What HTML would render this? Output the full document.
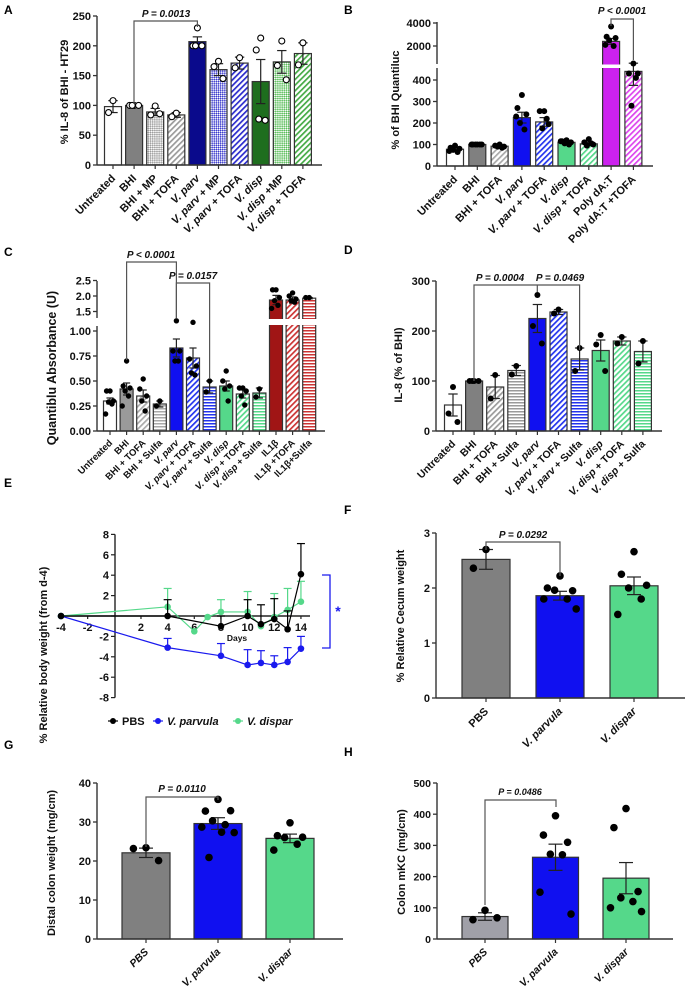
<!DOCTYPE html>
<html><head><meta charset="utf-8">
<style>
html,body{margin:0;padding:0;background:#fff;}
svg{display:block;font-family:"Liberation Sans",sans-serif;font-weight:bold;}
</style></head>
<body>
<svg id="fig" width="685" height="993" viewBox="0 0 685 993" xmlns="http://www.w3.org/2000/svg">
<defs id="defs"></defs>
<text x="4" y="14" font-size="12">A</text>
<text x="344" y="14" font-size="12">B</text>
<text x="4" y="256" font-size="12">C</text>
<text x="344" y="254" font-size="12">D</text>
<text x="4" y="487" font-size="12">E</text>
<text x="344" y="514" font-size="12">F</text>
<text x="4" y="749" font-size="12">G</text>
<text x="344" y="756" font-size="12">H</text>
</svg>
<script>
// ===== Panel A data =====
const aCats=['Untreated','BHI','BHI + MP','BHI + TOFA','V. parv','V. parv + MP','V. parv + TOFA','V. disp','V. disp +MP','V. disp + TOFA'];
const aVals=[98,100,89,84,207,160,171,140,173,187];
const aErrs=[10,0,6,4,8,10,10,37,19,18];
const aPts=[[108,88],[100,100,100,100],[99,84,86],[87,81],[230,200,200,200],[174,165,145],[180,163],[213,193,75,77],[208,167,143],[205,168]];
const aTicks=[0,50,100,150,200,250];
// ===== Panel B data =====
const bCats=['Untreated','BHI','BHI + TOFA','V. parv','V. parv + TOFA','V. disp','V. disp + TOFA','Poly dA:T','Poly dA:T +TOFA'];
const bVals=[78,100,92,225,205,110,103,2400,440];
const bErrs=[6,1,4,25,20,5,6,250,65];
const bPts=[[95,85,80,75,65,70],[100,100,100,100,100,100],[100,95,90,90,85],[330,270,240,200,170,230],[255,255,195,175,220],[120,115,110,105,100,115],[125,110,100,95,105],[3700,2800,2700,2500,2000,2100],[480,430,430,280,410]];
const bTicks=[0,100,200,300,400,2000,4000];
// ===== Panel C data =====
const cCats=['Untreated','BHI','BHI + TOFA','BHI + Sulfa','V. parv','V. parv + TOFA','V. parv + Sulfa','V. disp','V. disp + TOFA','V. disp + Sulfa','IL1β','IL1β +TOFA','IL1β+Sulfa'];
const cVals=[0.30,0.42,0.35,0.27,0.83,0.73,0.44,0.45,0.37,0.38,1.87,1.87,1.93];
const cErrs=[0.03,0.06,0.06,0.03,0.09,0.10,0.06,0.05,0.04,0.05,0.15,0.10,0.02];
const cPts=[[0.40,0.40,0.30,0.29,0.27,0.17],[0.70,0.45,0.43,0.40,0.35,0.25],[0.52,0.42,0.35,0.30,0.20],[0.30,0.25],[1.20,0.80,0.80,0.70,0.70],[1.15,0.72,0.65,0.58,0.56],[0.50,0.39],[0.60,0.50,0.45,0.42,0.30],[0.43,0.43,0.40,0.35,0.26],[0.42,0.34],[2.2,2.2,1.95,1.85,1.7,1.6],[2.1,2.0,1.9,1.85,1.8],[1.95,1.95]];
const cTicks=[0,0.25,0.5,0.75,1.0,1.5,2.0,2.5];
const cTickLabels=['0.00','0.25','0.50','0.75','1.00','1.5','2.0','2.5'];
// ===== Panel D data =====
const dCats=['Untreated','BHI','BHI + TOFA','BHI + Sulfa','V. parv','V. parv + TOFA','V. parv + Sulfa','V. disp','V. disp + TOFA','V. disp + Sulfa'];
const dVals=[52,100,88,121,225,238,144,161,180,159];
const dErrs=[22,0,23,10,28,5,22,21,8,21];
const dPts=[[88,35,18],[100,100,100,100],[112,65],[130,113],[272,210,175],[243,235],[166,120],[192,173,120],[188,175],[180,135]];
const dTicks=[0,100,200,300];
// ===== Panel E data =====
const eTicksX=[-4,-2,2,4,6,8,10,12,14];
const eTicksY=[8,6,4,2,-2,-4,-6,-8];
const pbsDays=[-4,4,8,10,11,12,13,14];
const pbsVals=[0,0,-1,0,-0.8,-0.3,-1.3,4.1];
const pbsErrs=[0,1.6,1.0,1.6,1.9,2.0,1.8,3.0];
const parDays=[-4,4,8,10,11,12,13,14];
const parVals=[0,-3.1,-3.9,-4.8,-4.6,-4.8,-4.5,-3.2];
const parErrs=[0,0.9,1.2,1.5,1.2,0.9,1.4,1.2];
const disDays=[-4,4,6,7,8,10,11,12,13,14];
const disVals=[0,0.9,-1.5,-0.1,0.4,0.4,-1.0,-0.1,0.6,1.4];
const disErrs=[0,1.8,0,0,1.2,2.0,0,2.3,2.1,2.0];
// ===== Panels F,G,H data =====
const fghCats=['PBS','V. parvula','V. dispar'];
const fVals=[2.52,1.86,2.04];
const fErrs=[0.18,0.08,0.16];
const fPts=[[2.70,2.36],[2.22,2.00,1.95,1.96,1.80,1.80,1.62],[2.66,2.25,2.05,2.00,1.80,1.52]];
const fTicks=[0,1,2,3];
const gVals=[22.1,29.6,25.8];
const gErrs=[1.2,1.5,1.1];
const gPts=[[23.4,23.2,20.1],[35.8,32.8,32.9,30.3,29.3,28.7,27.3,27.4,20.9],[29.8,26.5,26.1,26.0,24.3,22.8]];
const gTicks=[0,10,20,30,40];
const hVals=[72,262,195];
const hErrs=[12,42,50];
const hPts=[[92,62,68],[395,333,310,272,270,150,80],[418,357,152,132,120,100,88]];
const hTicks=[0,100,200,300,400,500];

const NS='http://www.w3.org/2000/svg';
const svg=document.getElementById('fig');
const defs=document.getElementById('defs');
function mk(tag,attrs,parent,name){
  const e=document.createElementNS(NS,tag);
  for(const k in attrs) e.setAttribute(k,attrs[k]);
  
  
  (parent||svg).appendChild(e);
  return e;
}
let patN=0;
function fillOf(spec){
  const [t,c]=spec.split(':');
  if(t==='solid') return c;
  const id='p'+(patN++);
  let w=4,h=4,rot=45;
  if(t==='check'){w=3;h=3;}
  if(t==='horiz'){w=4;h=3;rot=0;}
  const p=mk('pattern',{id:id,width:w,height:h,patternUnits:'userSpaceOnUse',patternTransform:'rotate('+rot+')'},defs,'hatch-pattern');
  mk('rect',{x:0,y:0,width:w,height:h,fill:'#fff'},p,'pattern-bg');
  if(t==='diag') mk('rect',{x:0,y:0,width:1.7,height:h,fill:c},p,'pattern-line');
  if(t==='horiz') mk('rect',{x:0,y:0,width:w,height:1.5,fill:c},p,'pattern-line');
  if(t==='check'){mk('rect',{x:0,y:0,width:1.5,height:1.5,fill:c},p,'pattern-cell');mk('rect',{x:1.5,y:1.5,width:1.5,height:1.5,fill:c},p,'pattern-cell');}
  return 'url(#'+id+')';
}
function txt(x,y,s,size,parent,name,opts){
  opts=opts||{};
  const t=mk('text',{x:x,y:y,'font-size':size,'text-anchor':opts.anchor||'middle',fill:opts.fill||'#111'},parent,name);
  if(opts.rot!==undefined) t.setAttribute('transform','rotate('+opts.rot+' '+x+' '+y+')');
  if(opts.italic) t.setAttribute('font-style','italic');
  if(opts.splitItalic){
    const m=s.match(/^(V\. \w+)(.*)$/);
    if(m){
      const a=mk('tspan',{'font-style':'italic'},t,'label-italic');a.textContent=m[1];
      const b=mk('tspan',{},t,'label-rest');b.textContent=m[2];
      return t;
    }
  }
  t.textContent=s;
  return t;
}
function line(x1,y1,x2,y2,parent,name,col,w){
  return mk('line',{x1:x1,y1:y1,x2:x2,y2:y2,stroke:col||'#333','stroke-width':w||1.3},parent,name);
}
function bracket(g,xa,xb,yt,yl,yr,label,lx,ly,size){
  mk('polyline',{points:xa+','+yl+' '+xa+','+yt+' '+xb+','+yt+' '+xb+','+yr,fill:'none',stroke:'#555','stroke-width':1.2},g,'significance-bracket');
  txt(lx,ly,label,size||10,g,'p-value-label',{italic:true});
}
const jit=[0,-0.35,0.35,-0.15,0.2,-0.45,0.45,0.1,-0.25];
function barPanel(p){
  const g=mk('g',{},svg,p.name);
  p.vals.forEach((v,i)=>{
    const cx=p.x0+i*p.dx;
    const top=p.y(v), base=p.y(0);
    mk('rect',{x:cx-p.bw/2,y:top,width:p.bw,height:base-top,fill:fillOf(p.fills[i]),stroke:'#333','stroke-width':1.2},g,'bar-'+i);
  });
  if(p.gap){ mk('rect',{x:p.axX-6,y:p.gap[0],width:p.axEnd-p.axX+6,height:p.gap[1]-p.gap[0],fill:'#fff'},g,'axis-break'); }
  p.vals.forEach((v,i)=>{
    const cx=p.x0+i*p.dx;
    const hi=p.y(v+p.errs[i]), lo=p.y(v-p.errs[i]), cw=Math.min(p.bw*0.55,14);
    line(cx,hi,cx,lo,g,'error-bar',p.errCol||'#222',1.2);
    line(cx-cw/2,hi,cx+cw/2,hi,g,'error-cap',p.errCol||'#222',1.2);
    line(cx-cw/2,lo,cx+cw/2,lo,g,'error-cap',p.errCol||'#222',1.2);
    const pts=p.pts[i], n=pts.length;
    pts.forEach((pv,j)=>{
      const off=n>1?jit[j%jit.length]*p.bw*0.75:0;
      mk('circle',{cx:cx+off,cy:p.y(pv),r:p.r,fill:p.open?'#fff':'#000',stroke:'#000','stroke-width':p.open?1.1:0},g,'data-point');
    });
  });
  const top=p.y(p.ticks[p.ticks.length-1]);
  const segs=p.axSegs||[[p.y(0),top]];
  segs.forEach(s=>line(p.axX,s[0],p.axX,s[1],g,'y-axis-line','#333',1.4));
  line(p.axX,p.y(0),p.axEnd,p.y(0),g,'x-axis-line','#333',1.4);
  p.ticks.forEach((t,i)=>{
    const y=p.y(t);
    line(p.axX-4,y,p.axX,y,g,'y-tick','#333',1.3);
    txt(p.axX-6,y+4,p.tickLabels?p.tickLabels[i]:String(t),p.tsize||11,g,'y-tick-label',{anchor:'end'});
  });
  p.cats.forEach((c,i)=>{
    const cx=p.x0+i*p.dx;
    line(cx,p.y(0),cx,p.y(0)+4,g,'x-tick','#333',1.2);
    const lx=cx+3, ly=p.y(0)+p.lsize+3;
    txt(lx,ly,c,p.lsize,g,'x-category-label',{anchor:'end',rot:-45,splitItalic:!p.allItalic,italic:(p.allItalic&&c!=='PBS')||p.allItalicAll});
  });
  txt(p.title[1],p.title[2],p.title[0],p.title[3]||11,g,'y-axis-title',{rot:-90});
  return g;
}

// Panel A
const yA=v=>165-v*0.596;
const gA=barPanel({name:'panel-a',cats:aCats,vals:aVals,errs:aErrs,pts:aPts,open:true,r:3,
 fills:['solid:#ffffff','solid:#808080','check:#9a9a9a','diag:#9a9a9a','solid:#0a0a8c','check:#3a3acc','diag:#2a2acc','solid:#1e6e1e','check:#55bb55','diag:#44aa44'],
 x0:113,dx:21.1,bw:17,y:yA,axX:97,axEnd:322,ticks:aTicks,lsize:11,title:['% IL-8 of BHI - HT29',68,92,11]});
bracket(gA,134,197.4,21,104,27,'P = 0.0013',166,17,10);

// Panel B
const yB=v=>v<=455?166-v*0.215:46-(v-2000)*0.0115;
const gB=barPanel({name:'panel-b',cats:bCats,vals:bVals,errs:bErrs,pts:bPts,r:3,
 fills:['solid:#ffffff','solid:#808080','diag:#a8a8a8','solid:#1010f0','diag:#2233ee','solid:#55d88a','diag:#55d88a','solid:#cc22ee','diag:#dd44ee'],
 x0:455,dx:22.3,bw:17,y:yB,axX:437,axEnd:653,ticks:bTicks,lsize:11,gap:[64.5,68],axSegs:[[166,68],[64,22]],
 title:['% of BHI Quantiluc',399,100,11]});
bracket(gB,611,633.4,19,26,60,'P < 0.0001',622,14,10);

// Panel C
const yC=v=>v<=1.05?431-v*100:296-(v-2)*31;
const gC=barPanel({name:'panel-c',cats:cCats,vals:cVals,errs:cErrs,pts:cPts,r:2.7,
 fills:['solid:#ffffff','solid:#9a9a9a','diag:#aaaaaa','horiz:#aaaaaa','solid:#1010f0','diag:#2233ee','horiz:#2233ee','solid:#55d88a','diag:#55d88a','horiz:#55d88a','solid:#a01515','diag:#cc3333','horiz:#cc3333'],
 x0:110,dx:16.6,bw:13,y:yC,axX:97,axEnd:325,ticks:cTicks,tickLabels:cTickLabels,tsize:11,lsize:9.5,gap:[319,325],axSegs:[[431,326],[318,281]],
 title:['Quantiblu Absorbance (U)',56,368,12.5]});
bracket(gC,126.6,176.4,262,360,318,'P < 0.0001',151,258,10);
bracket(gC,176.4,209.6,283,318,378,'P = 0.0157',193,279,10);

// Panel D
const yD=v=>431-v*0.5;
const gD=barPanel({name:'panel-d',cats:dCats,vals:dVals,errs:dErrs,pts:dPts,r:3,
 fills:['solid:#ffffff','solid:#808080','diag:#9a9a9a','horiz:#9a9a9a','solid:#1010f0','diag:#2233ee','horiz:#2233ee','solid:#55d88a','diag:#55d88a','horiz:#55d88a'],
 x0:453,dx:21.1,bw:17,y:yD,axX:436,axEnd:662,ticks:dTicks,lsize:10.5,
 title:['IL-8 (% of BHI)',402,365,11]});
mk('polyline',{points:'474,381 474,285 579.6,285 579.6,350',fill:'none',stroke:'#555','stroke-width':1.2},gD,'significance-bracket');
line(537.3,285,537.3,292,gD,'significance-bracket','#555',1.2);
txt(500,281,'P = 0.0004',10,gD,'p-value-label',{italic:true});
txt(560,281,'P = 0.0469',10,gD,'p-value-label',{italic:true});

// Panel E
const xE=d=>61+(d+4)*13.33;
const yE=v=>616-v*10.2;
const gE=mk('g',{},svg,'panel-e');
line(115,yE(8),115,yE(-8),gE,'y-axis-line','#222',1.4);
line(61,yE(0),310,yE(0),gE,'x-axis-line','#222',1.4);
eTicksY.concat([0]).forEach(t=>line(111,yE(t),115,yE(t),gE,'y-tick','#222',1.2));
eTicksY.forEach(t=>txt(109,yE(t)+4,String(t),11,gE,'y-tick-label',{anchor:'end'}));
eTicksX.forEach(t=>{line(xE(t),yE(0),xE(t),yE(0)+3,gE,'x-tick','#222',1.2);txt(xE(t),yE(0)+15,String(t),11,gE,'x-tick-label');});
txt(237,641,'Days',8.5,gE,'x-axis-title');
txt(47,655,'% Relative body weight (from d-4)',11,gE,'y-axis-title',{rot:-90});
function series(days,vals,errs,col,name){
  const sg=mk('g',{},gE,name);
  mk('polyline',{points:days.map((d,i)=>xE(d)+','+yE(vals[i])).join(' '),fill:'none',stroke:col,'stroke-width':1.2},sg,name+'-line');
  days.forEach((d,i)=>{
    if(errs[i]>0){
      const x=xE(d),y1=yE(vals[i]),y2=yE(vals[i]+errs[i]);
      line(x,y1,x,y2,sg,'error-bar',col,1.2);
      line(x-4,y2,x+4,y2,sg,'error-cap',col,1.2);
    }
    mk('circle',{cx:xE(d),cy:yE(vals[i]),r:3.3,fill:col},sg,name+'-point');
  });
}
series(parDays,parVals,parErrs,'#1a1aee','series-v-parvula');
series(disDays,disVals,disErrs,'#55d88a','series-v-dispar');
series(pbsDays,pbsVals,pbsErrs,'#000','series-pbs');
mk('polyline',{points:'322,575 330,575 330,648 322,648',fill:'none',stroke:'#1a1aee','stroke-width':1.3},gE,'significance-bracket');
txt(338,616,'*',14,gE,'significance-star',{fill:'#1a1aee'});
const lg=mk('g',{},gE,'legend');
[['PBS','#000',113,false],['V. parvula','#1a1aee',158,true],['V. dispar','#55d88a',238,true]].forEach(L=>{
  line(L[2]-5,721,L[2]+5,721,lg,'legend-line',L[1],1.2);
  mk('circle',{cx:L[2],cy:721,r:3,fill:L[1]},lg,'legend-marker');
  txt(L[2]+9,725,L[0],11,lg,'legend-entry',{anchor:'start',italic:L[3]});
});

// Panel F
const yF=v=>698-v*55;
const gF=barPanel({name:'panel-f',cats:fghCats,vals:fVals,errs:fErrs,pts:fPts,r:3.8,
 fills:['solid:#808080','solid:#1010f0','solid:#55d88a'],x0:486,dx:74,bw:48,y:yF,axX:436,axEnd:685,ticks:fTicks,lsize:11,allItalic:true,
 title:['% Relative Cecum weight',404,616,11]});
bracket(gF,486,560,542,550,576,'P = 0.0292',523,538,10);

// Panel G
const yG=v=>939-v*3.9;
const gG=barPanel({name:'panel-g',cats:fghCats,vals:gVals,errs:gErrs,pts:gPts,r:3.8,
 fills:['solid:#808080','solid:#1010f0','solid:#55d88a'],x0:146,dx:72,bw:48,y:yG,axX:97,axEnd:343,ticks:gTicks,lsize:10.5,allItalicAll:true,allItalic:true,
 title:['Distal colon weight (mg/cm)',55,863,11]});
bracket(gG,146,218,797,847,800,'P = 0.0110',182,792,10);

// Panel H
const yH=v=>939-v*0.312;
const gH=barPanel({name:'panel-h',cats:fghCats,vals:hVals,errs:hErrs,pts:hPts,r:3.8,
 fills:['solid:#a0a0a8','solid:#1010f0','solid:#55d88a'],x0:485,dx:70.5,bw:46,y:yH,axX:437,axEnd:673,ticks:hTicks,tsize:10.5,lsize:10.5,allItalicAll:true,allItalic:true,
 title:['Colon mKC (mg/cm)',405,862,11]});
bracket(gH,485,556,800,905,807,'P = 0.0486',520,795,9);
</script>
</body></html>
